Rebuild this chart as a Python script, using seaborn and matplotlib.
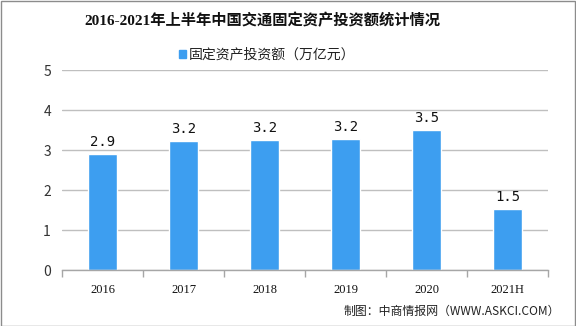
import matplotlib
matplotlib.use("Agg")
import matplotlib.pyplot as plt
from matplotlib.ticker import FixedLocator, FixedFormatter, NullFormatter
import seaborn as sns
import pandas as pd
import numpy as np

years = ["2016", "2017", "2018", "2019", "2020", "2021H"]
values = [2.90, 3.22, 3.25, 3.27, 3.50, 1.52]
labels = ["2.9", "3.2", "3.2", "3.2", "3.5", "1.5"]
series_name = "固定资产投资额（万亿元）"
title = "2016-2021年上半年中国交通固定资产投资额统计情况"
source = "制图：中商情报网（WWW.ASKCI.COM）"

sns.set_theme(style="white")
plt.rcParams['font.family'] = ['Noto Sans CJK SC', 'DejaVu Sans']

df = pd.DataFrame({"year": years, "value": values, "series": series_name})

fig = plt.figure(figsize=(5.76, 3.26), dpi=100)
ax = fig.add_axes([62/576, 1 - 270/326, (548-62)/576, 200/326])

color = "#3D9EF0"
sns.barplot(data=df, x="year", y="value", hue="series", palette=[color],
            width=0.37, saturation=1, ax=ax, legend=False)

ax.set_ylim(0, 5)
ax.set_xlim(-0.5, 5.5)
ax.set_yticks(range(0, 6))
ax.yaxis.grid(True, color="#BFBFBF", linewidth=1)
ax.set_axisbelow(True)
for s in ["left", "right", "top"]:
    ax.spines[s].set_visible(False)
ax.spines["bottom"].set_color("#A6A6A6")
ax.spines["bottom"].set_linewidth(1)
ax.set_xlabel("")
ax.set_ylabel("")
ax.tick_params(axis="y", length=0, labelsize=10, pad=8, labelcolor="#333333")

# major ticks: category boundaries (tick marks, no labels)
ax.xaxis.set_major_locator(FixedLocator(np.arange(-0.5, len(years), 1)))
ax.xaxis.set_major_formatter(NullFormatter())
ax.tick_params(axis="x", which="major", bottom=True, length=5, width=1,
               color="#A6A6A6", direction="out")
# minor ticks: category centers (labels, no marks)
ax.xaxis.set_minor_locator(FixedLocator(np.arange(len(years))))
ax.xaxis.set_minor_formatter(FixedFormatter(years))
ax.tick_params(axis="x", which="minor", bottom=True, length=0, pad=10,
               labelsize=9, labelcolor="#111111")
for t in ax.xaxis.get_minorticklabels():
    t.set_family(["Liberation Serif", "DejaVu Serif"])

for i, (v, lab) in enumerate(zip(values, labels)):
    ax.text(i, v + 0.13, lab, ha="center", va="bottom", fontsize=10,
            family=["DejaVu Sans Mono", "DejaVu Sans"], color="#111111")

fig.text(262/576, 1 - 20/326, title, ha="center", va="center", fontsize=11,
         fontweight="bold", color="#111111",
         family=["Liberation Serif", "Noto Sans CJK SC", "DejaVu Serif"])
fig.patches.append(plt.Rectangle((179/576, 1 - 58/326), 7/576, 8/326,
                                 transform=fig.transFigure, color=color))
fig.text(189/576, 1 - 54/326, series_name, ha="left", va="center", fontsize=10,
         color="#222222")
fig.text(560/576, 1 - 311/326, source, ha="right", va="center", fontsize=8.6,
         color="#222222")

fig.patches.append(plt.Rectangle((0.5/576, 0.5/326), 1 - 1.5/576, 1 - 1.5/326,
                                 transform=fig.transFigure, fill=False,
                                 edgecolor="#8C8C8C", linewidth=1))

fig.savefig("out.png", dpi=100)
